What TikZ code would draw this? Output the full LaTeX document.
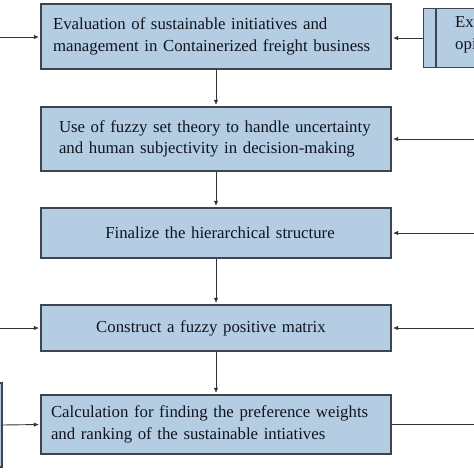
\documentclass[tikz,border=0pt]{standalone}
\usepackage{fontspec}
\setmainfont{Liberation Serif}
\usetikzlibrary{arrows.meta}
\definecolor{boxfill}{HTML}{B4CDE3}
\definecolor{boxline}{HTML}{3C4550}
\definecolor{txt}{HTML}{10141F}
\definecolor{wire}{HTML}{303438}
\begin{document}
\begin{tikzpicture}[x=1pt,y=-1pt,
  box/.style={draw=boxline, fill=boxfill, line width=1.1pt, minimum width=350pt,
    inner ysep=0pt, font=\fontsize{16.8}{21.6}\selectfont, text=txt},
  conn/.style={draw=wire, line width=0.9pt, -{Latex[length=5pt,width=4.5pt]}, shorten >=1.5pt},
  wireline/.style={draw=wire, line width=0.9pt}]
\useasboundingbox (0,0) rectangle (474,474);
\clip (0,0) rectangle (474,474);

\node[box, minimum height=65pt, text width=326pt, inner xsep=12pt, align=left] (b1) at (216,36.5)
  {Evaluation of sustainable initiatives and\\management in Containerized freight business};
\node[box, minimum height=64pt, text width=314pt, inner xsep=18pt, align=left] (b2) at (216,139)
  {Use of fuzzy set theory to handle uncertainty\\and human subjectivity in decision-making};
\node[box, minimum height=50pt, text width=330pt, inner xsep=10pt, align=center] (b3) at (216,233)
  {\hspace*{8pt}Finalize the hierarchical structure};
\node[box, minimum height=46pt, text width=330pt, inner xsep=10pt, align=center] (b4) at (216,328)
  {Construct a fuzzy positive matrix\hspace*{10pt}};
\node[box, minimum height=59pt, text width=330pt, inner xsep=10pt, align=left] (b5) at (216,424.5)
  {Calculation for finding the preference weights\\and ranking of the sustainable intiatives};

% partially visible side boxes
\node[box, minimum width=80pt, minimum height=59pt, anchor=north west] (expbox) at (423,8) {};
\draw[boxline, line width=1.1pt] (expbox.north west) ++(13,0) coordinate (expin) -- (expin |- expbox.south);
\node[font=\fontsize{16.8}{21.6}\selectfont, text=txt, align=left, anchor=west, inner sep=0pt] (exptext) at (455,35)
  {Experts'\\opinion};
\node[box, minimum width=60pt, minimum height=84pt, anchor=east] (lb) at (2.5,425) {};

% free ends
\coordinate (l1) at (0,37);
\coordinate (l4) at (0,328);
\coordinate (r2) at (474,139);
\coordinate (r3) at (474,233);
\coordinate (r4) at (474,328);
\coordinate (r5) at (474,424.5);

% connectors
\draw[conn] (b1.south) -- (b2.north);
\draw[conn] (b2.south) -- (b3.north);
\draw[conn] (b3.south) -- (b4.north);
\draw[conn] (b4.south) -- (b5.north);
\draw[conn] (l1) -- (b1.west |- l1);
\draw[conn] (expbox.west) -- (b1.east |- expbox.west);
\draw[conn] (r2) -- (b2.east);
\draw[conn] (r3) -- (b3.east);
\draw[conn] (l4) -- (b4.west);
\draw[conn] (r4) -- (b4.east);
\draw[conn] (lb.east) -- (b5.west);
\draw[wireline] (b5.east) -- (r5);
\end{tikzpicture}
\end{document}
